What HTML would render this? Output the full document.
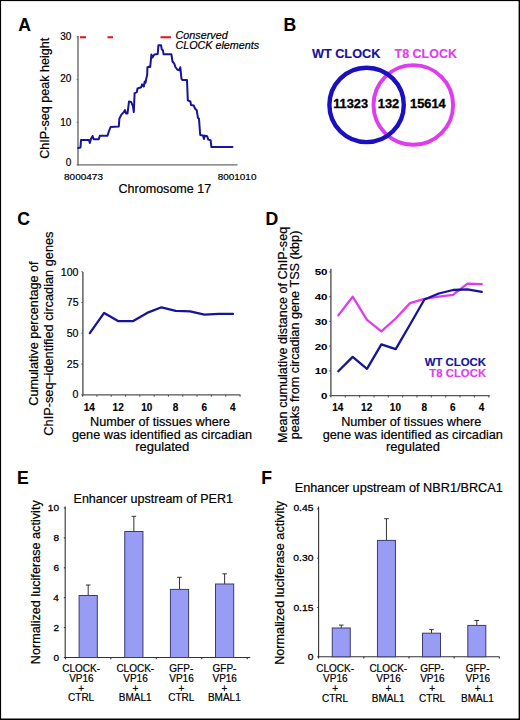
<!DOCTYPE html>
<html><head><meta charset="utf-8"><style>
html,body{margin:0;padding:0;background:#fff;}
svg{display:block;font-family:"Liberation Sans", sans-serif;}
</style></head><body>
<svg width="520" height="720" viewBox="0 0 520 720">
<rect x="0" y="0" width="520" height="720" fill="#fff"/>
<text x="18.16" y="30.5" font-size="17.6" fill="#000" font-weight="bold" stroke="#000" stroke-width="0.1">A</text>
<text x="283.42" y="30.6" font-size="17.6" fill="#000" font-weight="bold" stroke="#000" stroke-width="0.1">B</text>
<text x="17.18" y="225" font-size="17.6" fill="#000" font-weight="bold" stroke="#000" stroke-width="0.1">C</text>
<text x="265.42" y="224.6" font-size="17.6" fill="#000" font-weight="bold" stroke="#000" stroke-width="0.1">D</text>
<text x="17.02" y="484.2" font-size="17.6" fill="#000" font-weight="bold" stroke="#000" stroke-width="0.1">E</text>
<text x="261.22" y="484.2" font-size="17.6" fill="#000" font-weight="bold" stroke="#000" stroke-width="0.1">F</text>
<line x1="78" y1="36.1" x2="78" y2="165.2" stroke="#6a6a6a" stroke-width="1.4" stroke-linecap="butt"/>
<line x1="77.3" y1="164.9" x2="237.5" y2="164.9" stroke="#6a6a6a" stroke-width="1.4" stroke-linecap="butt"/>
<line x1="76.6" y1="164.9" x2="78.2" y2="164.9" stroke="#6a6a6a" stroke-width="1" stroke-linecap="butt"/>
<line x1="76.6" y1="122.27" x2="78.2" y2="122.27" stroke="#6a6a6a" stroke-width="1" stroke-linecap="butt"/>
<line x1="76.6" y1="79.64" x2="78.2" y2="79.64" stroke="#6a6a6a" stroke-width="1" stroke-linecap="butt"/>
<line x1="76.6" y1="37.01" x2="78.2" y2="37.01" stroke="#6a6a6a" stroke-width="1" stroke-linecap="butt"/>
<text x="60.27" y="40.45" font-size="10" fill="#000" stroke="#000" stroke-width="0.2">30</text>
<text x="60.27" y="82.25" font-size="10" fill="#000" stroke="#000" stroke-width="0.2">20</text>
<text x="60.27" y="125.6" font-size="10" fill="#000" stroke="#000" stroke-width="0.2">10</text>
<text x="65.83" y="166" font-size="10" fill="#000" stroke="#000" stroke-width="0.2">0</text>
<polyline fill="none" stroke="#16149a" stroke-width="2" stroke-linejoin="round" stroke-linecap="round" points="78.2,148 80.5,147.6 81,140 89,140 89.8,143 91,139 92.6,136 93.7,139.2 98.8,139.2 99.8,135.7 107.5,135.7 109,131 110.6,127 118.8,126.5 119.4,118.5 121.4,114.6 123.7,112.3 125,110 126,113.5 127.5,113.5 129,101.5 131.2,102 133,106.5 133.8,112 134.6,93.3 136.9,92 137.5,88.5 141.2,87.3 142.1,84.4 143.8,86.5 144.7,81.5 145.6,82.7 146.3,78.5 147.2,75 147.4,67.3 148.7,66.7 150.2,67 151.4,54.6 152.5,57.5 154.3,54.4 157.7,54 158.4,45.3 161.1,45.3 161.7,49.2 163,50.4 163.6,54.3 171.4,54.3 172.5,61.5 174.3,63.7 175.4,67 177.2,69.5 179.3,70.2 180.3,67.3 181.5,79 182.5,80 187,80 187.8,100.4 190.4,101.5 191,105 193.8,105.6 195,108.5 196.7,110.2 197.9,117.7 199,118.8 199.6,127 200.2,135 203,135.6 204,139 204.8,135.6 207.1,136.2 208.3,139.6 210.6,140.2 211.4,147.1 232.5,147.1"/>
<rect x="80" y="36.2" width="6" height="2.1" fill="#e01c24"/>
<rect x="107.5" y="36.2" width="5.5" height="2.1" fill="#e01c24"/>
<rect x="160.5" y="36.2" width="10.5" height="2.1" fill="#e01c24"/>
<text x="175.4" y="38.8" font-size="10.82" fill="#000" font-style="italic" stroke="#000" stroke-width="0.2">Conserved</text>
<text x="175.41" y="49.2" font-size="10.77" fill="#000" font-style="italic" stroke="#000" stroke-width="0.2">CLOCK elements</text>
<text transform="translate(64.06,180.2) scale(1,0.88)" font-size="10.01" fill="#000" stroke="#000" stroke-width="0.2">8000473</text>
<text transform="translate(217.67,179.9) scale(1,0.88)" font-size="9.97" fill="#000" stroke="#000" stroke-width="0.2">8001010</text>
<text x="118.56" y="193.4" font-size="12.54" fill="#000" stroke="#000" stroke-width="0.2">Chromosome 17</text>
<text transform="translate(49.3,158.74) rotate(-90)" font-size="12.58" fill="#000" stroke="#000" stroke-width="0.2">ChIP-seq peak height</text>
<text x="311.89" y="57.9" font-size="12.72" fill="#1812a0" font-weight="bold" stroke="#1812a0" stroke-width="0.15">WT CLOCK</text>
<text x="394.56" y="58" font-size="12.47" fill="#df3cef" font-weight="bold" stroke="#df3cef" stroke-width="0.15">T8 CLOCK</text>
<circle cx="413.3" cy="104.9" r="39.8" fill="none" stroke="#df3cef" stroke-width="3.9"/>
<circle cx="366.6" cy="104.9" r="37.2" fill="none" stroke="#1a10c0" stroke-width="4.4"/>
<text x="333.19" y="108" font-size="12.8" fill="#000" font-weight="bold" stroke="#000" stroke-width="0.35">11323</text>
<text x="377.79" y="108" font-size="12.8" fill="#000" font-weight="bold" stroke="#000" stroke-width="0.35">132</text>
<text x="410.09" y="108" font-size="12.8" fill="#000" font-weight="bold" stroke="#000" stroke-width="0.35">15614</text>
<text transform="translate(38.4,405.64) rotate(-90)" font-size="12.67" fill="#000" stroke="#000" stroke-width="0.2">Cumulative percentage of</text>
<text transform="translate(53.4,435.65) rotate(-90)" font-size="12.75" fill="#000" stroke="#000" stroke-width="0.2">ChIP-seq&#8211;identified circadian genes</text>
<line x1="82.9" y1="272.1" x2="82.9" y2="395.6" stroke="#555" stroke-width="1.4" stroke-linecap="butt"/>
<line x1="82.2" y1="394.9" x2="240.5" y2="394.9" stroke="#555" stroke-width="1.4" stroke-linecap="butt"/>
<line x1="81.4" y1="394.9" x2="82.9" y2="394.9" stroke="#555" stroke-width="1.1" stroke-linecap="butt"/>
<line x1="81.4" y1="364.1" x2="82.9" y2="364.1" stroke="#555" stroke-width="1.1" stroke-linecap="butt"/>
<line x1="81.4" y1="333.3" x2="82.9" y2="333.3" stroke="#555" stroke-width="1.1" stroke-linecap="butt"/>
<line x1="81.4" y1="302.5" x2="82.9" y2="302.5" stroke="#555" stroke-width="1.1" stroke-linecap="butt"/>
<line x1="81.4" y1="271.7" x2="82.9" y2="271.7" stroke="#555" stroke-width="1.1" stroke-linecap="butt"/>
<text x="60.83" y="276.1" font-size="10.6" fill="#000" stroke="#000" stroke-width="0.2">100</text>
<text x="66.75" y="305.9" font-size="10.6" fill="#000" stroke="#000" stroke-width="0.2">75</text>
<text x="66.72" y="337" font-size="10.6" fill="#000" stroke="#000" stroke-width="0.2">50</text>
<text x="66.75" y="368.1" font-size="10.6" fill="#000" stroke="#000" stroke-width="0.2">25</text>
<text x="72.62" y="398.4" font-size="10.6" fill="#000" stroke="#000" stroke-width="0.2">0</text>
<line x1="82.6" y1="394.9" x2="82.6" y2="396.7" stroke="#555" stroke-width="1.1" stroke-linecap="butt"/>
<line x1="96.91" y1="394.9" x2="96.91" y2="396.7" stroke="#555" stroke-width="1.1" stroke-linecap="butt"/>
<line x1="111.22" y1="394.9" x2="111.22" y2="396.7" stroke="#555" stroke-width="1.1" stroke-linecap="butt"/>
<line x1="125.53" y1="394.9" x2="125.53" y2="396.7" stroke="#555" stroke-width="1.1" stroke-linecap="butt"/>
<line x1="139.84" y1="394.9" x2="139.84" y2="396.7" stroke="#555" stroke-width="1.1" stroke-linecap="butt"/>
<line x1="154.15" y1="394.9" x2="154.15" y2="396.7" stroke="#555" stroke-width="1.1" stroke-linecap="butt"/>
<line x1="168.46" y1="394.9" x2="168.46" y2="396.7" stroke="#555" stroke-width="1.1" stroke-linecap="butt"/>
<line x1="182.77" y1="394.9" x2="182.77" y2="396.7" stroke="#555" stroke-width="1.1" stroke-linecap="butt"/>
<line x1="197.08" y1="394.9" x2="197.08" y2="396.7" stroke="#555" stroke-width="1.1" stroke-linecap="butt"/>
<line x1="211.39" y1="394.9" x2="211.39" y2="396.7" stroke="#555" stroke-width="1.1" stroke-linecap="butt"/>
<line x1="225.7" y1="394.9" x2="225.7" y2="396.7" stroke="#555" stroke-width="1.1" stroke-linecap="butt"/>
<line x1="240.01" y1="394.9" x2="240.01" y2="396.7" stroke="#555" stroke-width="1.1" stroke-linecap="butt"/>
<polyline fill="none" stroke="#16149a" stroke-width="2.3" stroke-linejoin="round" stroke-linecap="round" points="89.8,333.1 104.13,312.9 118.46,321.2 132.79,321.2 147.12,312.9 161.45,307.3 175.78,310.8 190.11,311.3 204.44,314.6 218.77,313.8 233.1,313.8"/>
<text x="83.75" y="410.7" font-size="10" fill="#000" font-weight="bold" stroke="#000" stroke-width="0.15">14</text>
<text x="112.58" y="410.7" font-size="10" fill="#000" font-weight="bold" stroke="#000" stroke-width="0.15">12</text>
<text x="141.25" y="410.7" font-size="10" fill="#000" font-weight="bold" stroke="#000" stroke-width="0.15">10</text>
<text x="172.79" y="410.7" font-size="10" fill="#000" font-weight="bold" stroke="#000" stroke-width="0.15">8</text>
<text x="201.46" y="410.7" font-size="10" fill="#000" font-weight="bold" stroke="#000" stroke-width="0.15">6</text>
<text x="230.07" y="410.7" font-size="10" fill="#000" font-weight="bold" stroke="#000" stroke-width="0.15">4</text>
<text x="90.06" y="425.9" font-size="12.67" fill="#000" stroke="#000" stroke-width="0.2">Number of tissues where</text>
<text x="71.97" y="438.6" font-size="12.71" fill="#000" stroke="#000" stroke-width="0.2">gene was identified as circadian</text>
<text x="135.14" y="450.8" font-size="13" fill="#000" stroke="#000" stroke-width="0.2">regulated</text>
<text transform="translate(287.1,442.94) rotate(-90)" font-size="12.63" fill="#000" stroke="#000" stroke-width="0.2">Mean cumulative distance of ChIP-seq</text>
<text transform="translate(299.4,439.32) rotate(-90)" font-size="12.67" fill="#000" stroke="#000" stroke-width="0.2">peaks from circadian gene TSS (kbp)</text>
<line x1="330.9" y1="268.8" x2="330.9" y2="396.3" stroke="#555" stroke-width="1.4" stroke-linecap="butt"/>
<line x1="330.2" y1="395.6" x2="489.8" y2="395.6" stroke="#555" stroke-width="1.4" stroke-linecap="butt"/>
<line x1="329.4" y1="395.6" x2="330.9" y2="395.6" stroke="#555" stroke-width="1.1" stroke-linecap="butt"/>
<line x1="329.4" y1="370.86" x2="330.9" y2="370.86" stroke="#555" stroke-width="1.1" stroke-linecap="butt"/>
<line x1="329.4" y1="346.12" x2="330.9" y2="346.12" stroke="#555" stroke-width="1.1" stroke-linecap="butt"/>
<line x1="329.4" y1="321.38" x2="330.9" y2="321.38" stroke="#555" stroke-width="1.1" stroke-linecap="butt"/>
<line x1="329.4" y1="296.64" x2="330.9" y2="296.64" stroke="#555" stroke-width="1.1" stroke-linecap="butt"/>
<line x1="329.4" y1="271.9" x2="330.9" y2="271.9" stroke="#555" stroke-width="1.1" stroke-linecap="butt"/>
<text transform="translate(314.66,274.5) scale(1.2,1)" font-size="9.6" fill="#000" font-weight="bold" stroke="#000" stroke-width="0.05">50</text>
<text transform="translate(314.66,299.8) scale(1.2,1)" font-size="9.6" fill="#000" font-weight="bold" stroke="#000" stroke-width="0.05">40</text>
<text transform="translate(314.66,324.7) scale(1.2,1)" font-size="9.6" fill="#000" font-weight="bold" stroke="#000" stroke-width="0.05">30</text>
<text transform="translate(314.66,349.5) scale(1.2,1)" font-size="9.6" fill="#000" font-weight="bold" stroke="#000" stroke-width="0.05">20</text>
<text transform="translate(314.66,374.3) scale(1.2,1)" font-size="9.6" fill="#000" font-weight="bold" stroke="#000" stroke-width="0.05">10</text>
<text transform="translate(321.07,399.1) scale(1.2,1)" font-size="9.6" fill="#000" font-weight="bold" stroke="#000" stroke-width="0.05">0</text>
<line x1="330.9" y1="395.6" x2="330.9" y2="397.4" stroke="#555" stroke-width="1.1" stroke-linecap="butt"/>
<line x1="345.25" y1="395.6" x2="345.25" y2="397.4" stroke="#555" stroke-width="1.1" stroke-linecap="butt"/>
<line x1="359.6" y1="395.6" x2="359.6" y2="397.4" stroke="#555" stroke-width="1.1" stroke-linecap="butt"/>
<line x1="373.95" y1="395.6" x2="373.95" y2="397.4" stroke="#555" stroke-width="1.1" stroke-linecap="butt"/>
<line x1="388.3" y1="395.6" x2="388.3" y2="397.4" stroke="#555" stroke-width="1.1" stroke-linecap="butt"/>
<line x1="402.65" y1="395.6" x2="402.65" y2="397.4" stroke="#555" stroke-width="1.1" stroke-linecap="butt"/>
<line x1="417" y1="395.6" x2="417" y2="397.4" stroke="#555" stroke-width="1.1" stroke-linecap="butt"/>
<line x1="431.35" y1="395.6" x2="431.35" y2="397.4" stroke="#555" stroke-width="1.1" stroke-linecap="butt"/>
<line x1="445.7" y1="395.6" x2="445.7" y2="397.4" stroke="#555" stroke-width="1.1" stroke-linecap="butt"/>
<line x1="460.05" y1="395.6" x2="460.05" y2="397.4" stroke="#555" stroke-width="1.1" stroke-linecap="butt"/>
<line x1="474.4" y1="395.6" x2="474.4" y2="397.4" stroke="#555" stroke-width="1.1" stroke-linecap="butt"/>
<line x1="488.75" y1="395.6" x2="488.75" y2="397.4" stroke="#555" stroke-width="1.1" stroke-linecap="butt"/>
<polyline fill="none" stroke="#df3cef" stroke-width="2.3" stroke-linejoin="round" stroke-linecap="round" points="338.3,315.4 352.65,296.7 367,319.8 381.35,331.3 395.7,318.5 410.05,303.1 424.4,298.9 438.75,296.7 453.1,294.8 467.45,283.7 481.8,284.2"/>
<polyline fill="none" stroke="#16149a" stroke-width="2.3" stroke-linejoin="round" stroke-linecap="round" points="338.3,371.3 352.65,356.9 367,368.8 381.35,344.4 395.7,349.2 410.05,324.5 424.4,299.5 438.75,293.5 453.1,290 467.45,289.4 481.8,291.9"/>
<text x="424.69" y="365.5" font-size="11.4" fill="#16149a" font-weight="bold" stroke="#16149a" stroke-width="0.15">WT CLOCK</text>
<text x="429.37" y="376.6" font-size="11.35" fill="#df3cef" font-weight="bold" stroke="#df3cef" stroke-width="0.15">T8 CLOCK</text>
<text x="332.25" y="410.7" font-size="10" fill="#000" font-weight="bold" stroke="#000" stroke-width="0.15">14</text>
<text x="361.12" y="410.7" font-size="10" fill="#000" font-weight="bold" stroke="#000" stroke-width="0.15">12</text>
<text x="389.83" y="410.7" font-size="10" fill="#000" font-weight="bold" stroke="#000" stroke-width="0.15">10</text>
<text x="421.41" y="410.7" font-size="10" fill="#000" font-weight="bold" stroke="#000" stroke-width="0.15">8</text>
<text x="450.12" y="410.7" font-size="10" fill="#000" font-weight="bold" stroke="#000" stroke-width="0.15">6</text>
<text x="478.77" y="410.7" font-size="10" fill="#000" font-weight="bold" stroke="#000" stroke-width="0.15">4</text>
<text x="341.16" y="425.9" font-size="12.68" fill="#000" stroke="#000" stroke-width="0.2">Number of tissues where</text>
<text x="322.67" y="438.6" font-size="12.73" fill="#000" stroke="#000" stroke-width="0.2">gene was identified as circadian</text>
<text x="386.04" y="450.8" font-size="12.95" fill="#000" stroke="#000" stroke-width="0.2">regulated</text>
<text x="73.57" y="503" font-size="12.52" fill="#000" stroke="#000" stroke-width="0.2">Enhancer upstream of PER1</text>
<text transform="translate(39.7,664.14) rotate(-90)" font-size="12.67" fill="#000" stroke="#000" stroke-width="0.2">Normalized luciferase activity</text>
<line x1="65.2" y1="506.6" x2="65.2" y2="658" stroke="#333" stroke-width="1.1" stroke-linecap="butt"/>
<line x1="64.7" y1="657.5" x2="250.2" y2="657.5" stroke="#333" stroke-width="1.1" stroke-linecap="butt"/>
<line x1="63.8" y1="657.5" x2="65.2" y2="657.5" stroke="#333" stroke-width="1.1" stroke-linecap="butt"/>
<line x1="63.8" y1="627.6" x2="65.2" y2="627.6" stroke="#333" stroke-width="1.1" stroke-linecap="butt"/>
<line x1="63.8" y1="597.7" x2="65.2" y2="597.7" stroke="#333" stroke-width="1.1" stroke-linecap="butt"/>
<line x1="63.8" y1="567.8" x2="65.2" y2="567.8" stroke="#333" stroke-width="1.1" stroke-linecap="butt"/>
<line x1="63.8" y1="537.9" x2="65.2" y2="537.9" stroke="#333" stroke-width="1.1" stroke-linecap="butt"/>
<line x1="63.8" y1="508" x2="65.2" y2="508" stroke="#333" stroke-width="1.1" stroke-linecap="butt"/>
<text transform="translate(53.43,660.7) scale(1,0.96)" font-size="10" fill="#000" stroke="#000" stroke-width="0.3">0</text>
<text transform="translate(53.54,630.9) scale(1,0.96)" font-size="10" fill="#000" stroke="#000" stroke-width="0.3">2</text>
<text transform="translate(53.33,600.9) scale(1,0.96)" font-size="10" fill="#000" stroke="#000" stroke-width="0.3">4</text>
<text transform="translate(53.48,571) scale(1,0.96)" font-size="10" fill="#000" stroke="#000" stroke-width="0.3">6</text>
<text transform="translate(53.47,540.6) scale(1,0.96)" font-size="10" fill="#000" stroke="#000" stroke-width="0.3">8</text>
<text transform="translate(47.87,510.8) scale(1,0.96)" font-size="10" fill="#000" stroke="#000" stroke-width="0.3">10</text>
<line x1="65.4" y1="657.5" x2="65.4" y2="659.2" stroke="#333" stroke-width="1.1" stroke-linecap="butt"/>
<line x1="110.85" y1="657.5" x2="110.85" y2="659.2" stroke="#333" stroke-width="1.1" stroke-linecap="butt"/>
<line x1="156.3" y1="657.5" x2="156.3" y2="659.2" stroke="#333" stroke-width="1.1" stroke-linecap="butt"/>
<line x1="201.75" y1="657.5" x2="201.75" y2="659.2" stroke="#333" stroke-width="1.1" stroke-linecap="butt"/>
<line x1="247.2" y1="657.5" x2="247.2" y2="659.2" stroke="#333" stroke-width="1.1" stroke-linecap="butt"/>
<line x1="88.2" y1="585" x2="88.2" y2="595.5" stroke="#333" stroke-width="1" stroke-linecap="butt"/>
<line x1="85.9" y1="585" x2="90.5" y2="585" stroke="#333" stroke-width="1" stroke-linecap="butt"/>
<rect x="79.1" y="595.5" width="18.2" height="62" fill="#999cf4" stroke="#3b3b70" stroke-width="1"/>
<line x1="133.85" y1="516.3" x2="133.85" y2="531.5" stroke="#333" stroke-width="1" stroke-linecap="butt"/>
<line x1="131.55" y1="516.3" x2="136.15" y2="516.3" stroke="#333" stroke-width="1" stroke-linecap="butt"/>
<rect x="124.75" y="531.5" width="18.2" height="126" fill="#999cf4" stroke="#3b3b70" stroke-width="1"/>
<line x1="179.5" y1="577.3" x2="179.5" y2="589.4" stroke="#333" stroke-width="1" stroke-linecap="butt"/>
<line x1="177.2" y1="577.3" x2="181.8" y2="577.3" stroke="#333" stroke-width="1" stroke-linecap="butt"/>
<rect x="170.4" y="589.4" width="18.2" height="68.1" fill="#999cf4" stroke="#3b3b70" stroke-width="1"/>
<line x1="224.6" y1="573.8" x2="224.6" y2="584" stroke="#333" stroke-width="1" stroke-linecap="butt"/>
<line x1="222.3" y1="573.8" x2="226.9" y2="573.8" stroke="#333" stroke-width="1" stroke-linecap="butt"/>
<rect x="215.5" y="584" width="18.2" height="73.5" fill="#999cf4" stroke="#3b3b70" stroke-width="1"/>
<text x="62.28" y="671.9" font-size="10" fill="#000" stroke="#000" stroke-width="0.2">CLOCK-</text>
<text x="69.17" y="681.7" font-size="10" fill="#000" stroke="#000" stroke-width="0.2">VP16</text>
<text x="78.28" y="691.5" font-size="10" fill="#000" stroke="#000" stroke-width="0.2">+</text>
<text x="68.06" y="701.3" font-size="10" fill="#000" stroke="#000" stroke-width="0.2">CTRL</text>
<text x="116.38" y="671.9" font-size="10" fill="#000" stroke="#000" stroke-width="0.2">CLOCK-</text>
<text x="123.27" y="681.7" font-size="10" fill="#000" stroke="#000" stroke-width="0.2">VP16</text>
<text x="132.38" y="691.5" font-size="10" fill="#000" stroke="#000" stroke-width="0.2">+</text>
<text x="118.74" y="701.3" font-size="10" fill="#000" stroke="#000" stroke-width="0.2">BMAL1</text>
<text x="169.33" y="671.9" font-size="10" fill="#000" stroke="#000" stroke-width="0.2">GFP-</text>
<text x="169.27" y="681.7" font-size="10" fill="#000" stroke="#000" stroke-width="0.2">VP16</text>
<text x="178.38" y="691.5" font-size="10" fill="#000" stroke="#000" stroke-width="0.2">+</text>
<text x="168.16" y="701.3" font-size="10" fill="#000" stroke="#000" stroke-width="0.2">CTRL</text>
<text x="212.53" y="671.9" font-size="10" fill="#000" stroke="#000" stroke-width="0.2">GFP-</text>
<text x="212.47" y="681.7" font-size="10" fill="#000" stroke="#000" stroke-width="0.2">VP16</text>
<text x="221.58" y="691.5" font-size="10" fill="#000" stroke="#000" stroke-width="0.2">+</text>
<text x="207.94" y="701.3" font-size="10" fill="#000" stroke="#000" stroke-width="0.2">BMAL1</text>
<text x="294.76" y="492" font-size="12.69" fill="#000" stroke="#000" stroke-width="0.2">Enhancer upstream of NBR1/BRCA1</text>
<text transform="translate(284.2,664.84) rotate(-90)" font-size="12.67" fill="#000" stroke="#000" stroke-width="0.2">Normalized luciferase activity</text>
<line x1="318.6" y1="506.4" x2="318.6" y2="657.3" stroke="#333" stroke-width="1.1" stroke-linecap="butt"/>
<line x1="318.1" y1="656.8" x2="499.4" y2="656.8" stroke="#333" stroke-width="1.1" stroke-linecap="butt"/>
<line x1="317.2" y1="656.8" x2="318.6" y2="656.8" stroke="#333" stroke-width="1.1" stroke-linecap="butt"/>
<text transform="translate(307.67,660.1) scale(1,0.9)" font-size="10.3" fill="#000" stroke="#000" stroke-width="0.3">0</text>
<line x1="317.2" y1="607.5" x2="318.6" y2="607.5" stroke="#333" stroke-width="1.1" stroke-linecap="butt"/>
<text transform="translate(293.39,611.1) scale(1,0.9)" font-size="10.3" fill="#000" stroke="#000" stroke-width="0.3">0.15</text>
<line x1="317.2" y1="558.2" x2="318.6" y2="558.2" stroke="#333" stroke-width="1.1" stroke-linecap="butt"/>
<text transform="translate(293.36,561.3) scale(1,0.9)" font-size="10.3" fill="#000" stroke="#000" stroke-width="0.3">0.30</text>
<line x1="317.2" y1="508.9" x2="318.6" y2="508.9" stroke="#333" stroke-width="1.1" stroke-linecap="butt"/>
<text transform="translate(293.39,511.1) scale(1,0.9)" font-size="10.3" fill="#000" stroke="#000" stroke-width="0.3">0.45</text>
<line x1="318.6" y1="656.8" x2="318.6" y2="658.5" stroke="#333" stroke-width="1.1" stroke-linecap="butt"/>
<line x1="363.8" y1="656.8" x2="363.8" y2="658.5" stroke="#333" stroke-width="1.1" stroke-linecap="butt"/>
<line x1="409" y1="656.8" x2="409" y2="658.5" stroke="#333" stroke-width="1.1" stroke-linecap="butt"/>
<line x1="454.2" y1="656.8" x2="454.2" y2="658.5" stroke="#333" stroke-width="1.1" stroke-linecap="butt"/>
<line x1="499.4" y1="656.8" x2="499.4" y2="658.5" stroke="#333" stroke-width="1.1" stroke-linecap="butt"/>
<line x1="341.25" y1="625.1" x2="341.25" y2="628" stroke="#333" stroke-width="1" stroke-linecap="butt"/>
<line x1="338.95" y1="625.1" x2="343.55" y2="625.1" stroke="#333" stroke-width="1" stroke-linecap="butt"/>
<rect x="332.25" y="628" width="18" height="28.8" fill="#999cf4" stroke="#3b3b70" stroke-width="1"/>
<line x1="386.45" y1="518.7" x2="386.45" y2="540.4" stroke="#333" stroke-width="1" stroke-linecap="butt"/>
<line x1="384.15" y1="518.7" x2="388.75" y2="518.7" stroke="#333" stroke-width="1" stroke-linecap="butt"/>
<rect x="377.45" y="540.4" width="18" height="116.4" fill="#999cf4" stroke="#3b3b70" stroke-width="1"/>
<line x1="431.5" y1="629.6" x2="431.5" y2="633.2" stroke="#333" stroke-width="1" stroke-linecap="butt"/>
<line x1="429.2" y1="629.6" x2="433.8" y2="629.6" stroke="#333" stroke-width="1" stroke-linecap="butt"/>
<rect x="422.5" y="633.2" width="18" height="23.6" fill="#999cf4" stroke="#3b3b70" stroke-width="1"/>
<line x1="476.8" y1="620.5" x2="476.8" y2="625.4" stroke="#333" stroke-width="1" stroke-linecap="butt"/>
<line x1="474.5" y1="620.5" x2="479.1" y2="620.5" stroke="#333" stroke-width="1" stroke-linecap="butt"/>
<rect x="467.8" y="625.4" width="18" height="31.4" fill="#999cf4" stroke="#3b3b70" stroke-width="1"/>
<text x="316.18" y="672.1" font-size="10" fill="#000" stroke="#000" stroke-width="0.2">CLOCK-</text>
<text x="323.07" y="681.97" font-size="10" fill="#000" stroke="#000" stroke-width="0.2">VP16</text>
<text x="332.18" y="691.84" font-size="10" fill="#000" stroke="#000" stroke-width="0.2">+</text>
<text x="321.96" y="701.71" font-size="10" fill="#000" stroke="#000" stroke-width="0.2">CTRL</text>
<text x="369.38" y="672.1" font-size="10" fill="#000" stroke="#000" stroke-width="0.2">CLOCK-</text>
<text x="376.27" y="681.97" font-size="10" fill="#000" stroke="#000" stroke-width="0.2">VP16</text>
<text x="385.38" y="691.84" font-size="10" fill="#000" stroke="#000" stroke-width="0.2">+</text>
<text x="371.74" y="701.71" font-size="10" fill="#000" stroke="#000" stroke-width="0.2">BMAL1</text>
<text x="420.23" y="672.1" font-size="10" fill="#000" stroke="#000" stroke-width="0.2">GFP-</text>
<text x="420.17" y="681.97" font-size="10" fill="#000" stroke="#000" stroke-width="0.2">VP16</text>
<text x="429.28" y="691.84" font-size="10" fill="#000" stroke="#000" stroke-width="0.2">+</text>
<text x="419.06" y="701.71" font-size="10" fill="#000" stroke="#000" stroke-width="0.2">CTRL</text>
<text x="465.63" y="672.1" font-size="10" fill="#000" stroke="#000" stroke-width="0.2">GFP-</text>
<text x="465.57" y="681.97" font-size="10" fill="#000" stroke="#000" stroke-width="0.2">VP16</text>
<text x="474.68" y="691.84" font-size="10" fill="#000" stroke="#000" stroke-width="0.2">+</text>
<text x="461.04" y="701.71" font-size="10" fill="#000" stroke="#000" stroke-width="0.2">BMAL1</text>
<rect x="0" y="0" width="520" height="1.1" fill="#000"/>
<rect x="0" y="0" width="1.1" height="720" fill="#000"/>
<rect x="518.6" y="0" width="1.4" height="720" fill="#000"/>
<rect x="0" y="718.5" width="520" height="1.5" fill="#000"/>
</svg>
</body></html>
